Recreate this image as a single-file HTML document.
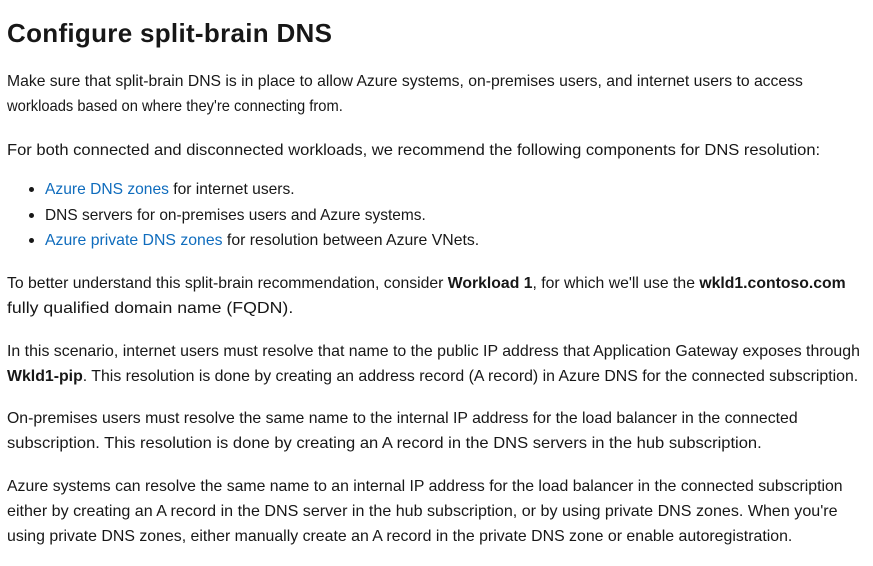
<!DOCTYPE html>
<html><head><meta charset="utf-8"><style>
body{margin:0;width:873px;height:566px;background:#fff;overflow:hidden;position:relative;font-family:"Liberation Sans",sans-serif;color:#171717}
.l{position:absolute;left:7px;font-size:15.6px;line-height:25px;white-space:nowrap;transform-origin:0 0}
.h{position:absolute;left:7px;top:15px;font-size:26px;font-weight:bold;line-height:36px;white-space:nowrap;letter-spacing:0.3px}
a{color:#0f6cbd;text-decoration:none}
.b{left:45px}
.dot{position:absolute;left:29px;width:5px;height:5px;border-radius:50%;background:#171717}
</style></head><body>
<div class="h">Configure split-brain DNS</div>
<div class="l" style="top:69px;transform:scaleX(1.008)">Make sure that split-brain DNS is in place to allow Azure systems, on-premises users, and internet users to access</div>
<div class="l" style="top:94px;transform:scaleX(0.944)">workloads based on where they're connecting from.</div>
<div class="l" style="top:138px;transform:scaleX(1.06)">For both connected and disconnected workloads, we recommend the following components for DNS resolution:</div>
<div class="dot" style="top:187px"></div>
<div class="l b" style="top:177px"><a>Azure DNS zones</a> for internet users.</div>
<div class="dot" style="top:213px"></div>
<div class="l b" style="top:203px;transform:scaleX(0.992)">DNS servers for on-premises users and Azure systems.</div>
<div class="dot" style="top:238px"></div>
<div class="l b" style="top:228px;transform:scaleX(1.014)"><a>Azure private DNS zones</a> for resolution between Azure VNets.</div>
<div class="l" style="top:271px;transform:scaleX(1.011)">To better understand this split-brain recommendation, consider <b>Workload 1</b>, for which we'll use the <b>wkld1.contoso.com</b></div>
<div class="l" style="top:296px;transform:scaleX(1.135)">fully qualified domain name (FQDN).</div>
<div class="l" style="top:339px;transform:scaleX(1.019)">In this scenario, internet users must resolve that name to the public IP address that Application Gateway exposes through</div>
<div class="l" style="top:364px;transform:scaleX(1.017)"><b>Wkld1-pip</b>. This resolution is done by creating an address record (A record) in Azure DNS for the connected subscription.</div>
<div class="l" style="top:406px;transform:scaleX(1.015)">On-premises users must resolve the same name to the internal IP address for the load balancer in the connected</div>
<div class="l" style="top:431px;transform:scaleX(1.061)">subscription. This resolution is done by creating an A record in the DNS servers in the hub subscription.</div>
<div class="l" style="top:474px;transform:scaleX(1.014)">Azure systems can resolve the same name to an internal IP address for the load balancer in the connected subscription</div>
<div class="l" style="top:499px;transform:scaleX(1.031)">either by creating an A record in the DNS server in the hub subscription, or by using private DNS zones. When you're</div>
<div class="l" style="top:524px;transform:scaleX(1.018)">using private DNS zones, either manually create an A record in the private DNS zone or enable autoregistration.</div>
</body></html>
